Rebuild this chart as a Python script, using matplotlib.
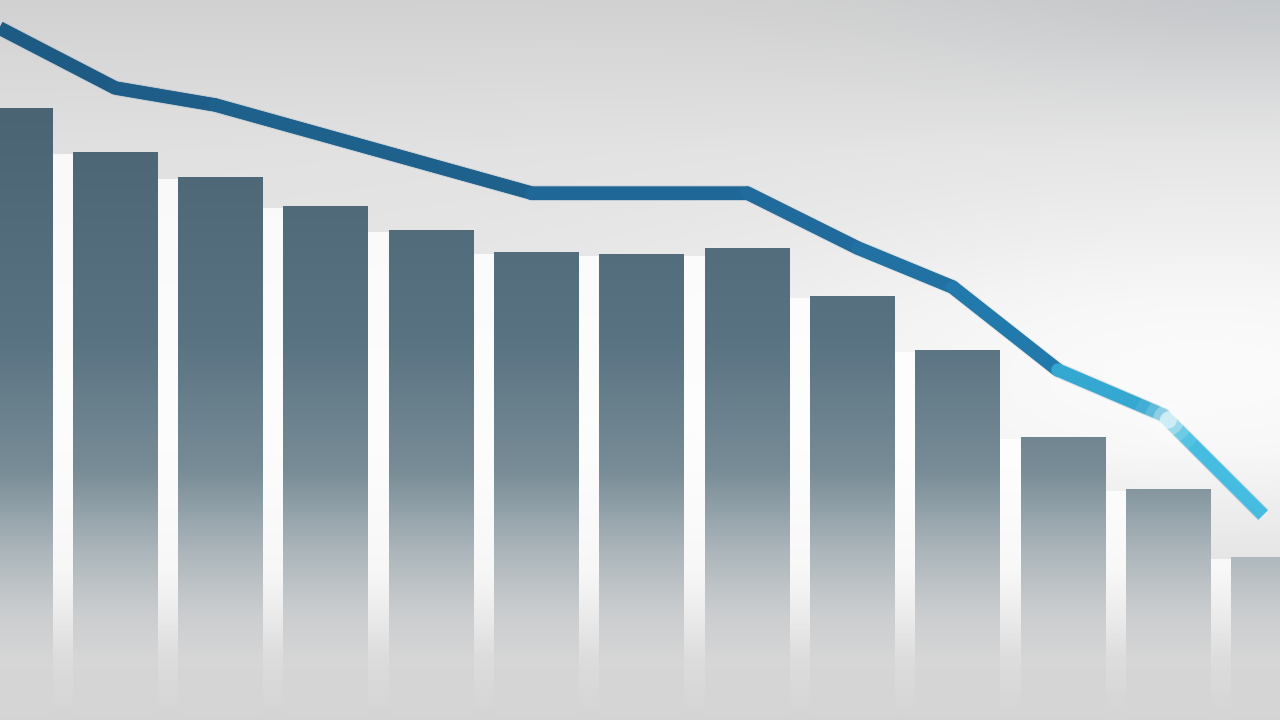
import numpy as np
import matplotlib
matplotlib.use("Agg")
import matplotlib.pyplot as plt
from matplotlib.path import Path
from matplotlib.patches import PathPatch

# ---- data ----
bar_positions = list(range(13))
bar_values = [612, 568, 543, 514, 490, 468, 466, 472, 424, 370, 283, 231, 163]
line_x = [-0.1, 1.0, 1.95, 4.95, 7.0, 8.05, 8.95, 9.95, 10.95, 11.9]
line_y = [692, 632, 615, 527, 527, 472, 433, 350, 305, 205]
line_colors = ["#1d5a84", "#1e5d88", "#1f618d", "#1f6797", "#206b9c",
               "#2172a2", "#2279ab", "#34a8d0", "#46bde0"]

fig = plt.figure(figsize=(12.8, 7.2), dpi=100)
ax = fig.add_axes([0, 0, 1, 1])
x0, x1 = -0.095, 12.06
ax.set_xlim(x0, x1)
ax.set_ylim(0, 720)
ax.axis("off")

# background gradient (rows: top -> bottom)
nx, ny = 320, 180
gx = np.linspace(0, 1, nx)
py = np.linspace(0, 720, ny)
vert = np.interp(py, [0, 50, 150, 300, 450, 560, 650, 720],
                 [0.825, 0.85, 0.895, 0.92, 0.93, 0.89, 0.845, 0.835])
X, PY = np.meshgrid(gx, py)
V = vert[:, None] + 0.06 * np.exp(-((X - 0.92) ** 2 / 0.12 + (PY - 360) ** 2 / 2.5e4)) \
    - 0.02 * (1 - X) * np.exp(-((PY - 300) ** 2 / 6e4))
V = np.clip(V, 0, 1)
corner = np.exp(-((X - 1.0) ** 2 / 0.08 + PY ** 2 / 8e3))
bg = np.dstack([V - 0.05 * corner, V - 0.04 * corner, V - 0.03 * corner])
ax.imshow(np.clip(bg, 0, 1), extent=(x0, x1, 0, 720), origin="upper", aspect="auto",
          zorder=0, interpolation="bicubic")

bw = 85 / 105.3
# white glow in gaps between neighbouring bars
verts, codes = [], []
gap_tops = [bar_values[0]] + [min(a, b) for a, b in zip(bar_values[:-1], bar_values[1:])] + [bar_values[-1]]
gap_centers = [bar_positions[0] - 0.5] + [p + 0.5 for p in bar_positions]
for xc, h in zip(gap_centers, gap_tops):
    hw = (1 - bw) / 2 + 0.01
    r = [(xc - hw, 0), (xc + hw, 0), (xc + hw, h - 2), (xc - hw, h - 2), (xc - hw, 0)]
    verts += r
    codes += [Path.MOVETO, Path.LINETO, Path.LINETO, Path.LINETO, Path.CLOSEPOLY]
glow_patch = PathPatch(Path(verts, codes), transform=ax.transData, facecolor="none", edgecolor="none")
ax.add_patch(glow_patch)
ay = np.linspace(0, 720, 300)
alpha = np.interp(ay, [0, 60, 150, 300, 720], [0, 0.15, 0.75, 0.9, 0.75])[:, None]
one = np.ones((300, 1))
white = np.dstack([one, one, one, alpha])
im_g = ax.imshow(white, extent=(x0, x1, 0, 720), origin="lower", aspect="auto", zorder=1)
im_g.set_clip_path(glow_patch)

# bars with vertical gradient
verts, codes = [], []
for xc, h in zip(bar_positions, bar_values):
    r = [(xc - bw / 2, 0), (xc + bw / 2, 0), (xc + bw / 2, h), (xc - bw / 2, h), (xc - bw / 2, 0)]
    verts += r
    codes += [Path.MOVETO, Path.LINETO, Path.LINETO, Path.LINETO, Path.CLOSEPOLY]
bar_patch = PathPatch(Path(verts, codes), transform=ax.transData, facecolor="none", edgecolor="none")
ax.add_patch(bar_patch)
stops_y = [0, 60, 110, 170, 250, 380, 620, 720]
cols = np.array([
    [0.835, 0.835, 0.835],
    [0.84, 0.84, 0.84],
    [0.79, 0.80, 0.81],
    [0.67, 0.71, 0.73],
    [0.47, 0.55, 0.59],
    [0.35, 0.45, 0.51],
    [0.29, 0.39, 0.45],
    [0.28, 0.38, 0.44],
])
yy = np.linspace(0, 720, 400)
rgb = np.stack([np.interp(yy, stops_y, cols[:, k]) for k in range(3)], axis=1)
img = np.repeat(rgb[:, None, :], 2, axis=1)
im_b = ax.imshow(img, extent=(x0, x1, 0, 720), origin="lower", aspect="auto", zorder=2,
                 interpolation="bilinear")
im_b.set_clip_path(bar_patch)

# line: soft halo, base stroke with round joins, then coloured segments
ax.plot(line_x, line_y, color="#1d5a84", lw=11, alpha=0.15,
        solid_capstyle="butt", solid_joinstyle="round", zorder=3)
ax.plot(line_x[:8], line_y[:8], color="#1f6390", lw=9.5,
        solid_capstyle="butt", solid_joinstyle="round", zorder=4)
for i in range(len(line_x) - 1):
    cap = "round" if 0 < i < len(line_x) - 2 else "butt"
    ax.plot(line_x[i:i + 2], line_y[i:i + 2], color=line_colors[i], lw=9.5,
            solid_capstyle=cap, zorder=4)

# glow highlight
for s, a in [(2500, 0.08), (1200, 0.15), (500, 0.3), (150, 0.5)]:
    ax.scatter([line_x[8] + 0.05], [line_y[8] - 5], s=s, color="white", alpha=a,
               edgecolors="none", zorder=5)

fig.savefig("out.png", dpi=100)
